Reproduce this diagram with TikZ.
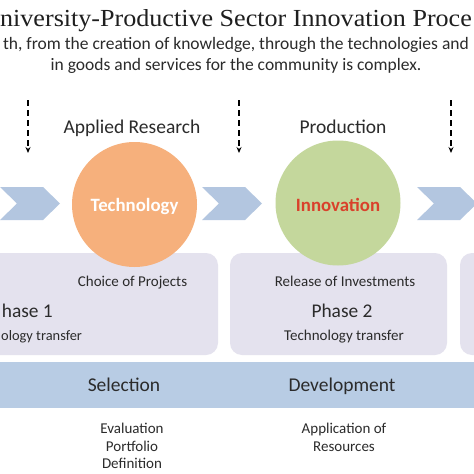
\documentclass[tikz,border=0pt]{standalone}
\usepackage{fontspec}
\setmainfont{Carlito}
\newfontfamily\titlefont{Liberation Serif}
\usetikzlibrary{arrows.meta}
\definecolor{chev}{HTML}{B3C6E0}
\definecolor{panelc}{HTML}{E4E2EE}
\definecolor{bandc}{HTML}{B8CCE4}
\definecolor{orangec}{HTML}{F6B07C}
\definecolor{greenc}{HTML}{C4D79C}
\definecolor{innov}{HTML}{D9412B}
\definecolor{txt}{HTML}{2B2B2B}
\tikzset{
  chevshape/.style={fill=chev},
  panelbox/.style={fill=panelc, rounded corners=12pt},
  bigcirc/.style={circle, minimum size=125pt, inner sep=0pt},
  dasharrow/.style={draw=black, dashed, dash pattern=on 6pt off 4pt, line width=1.4pt, -{Stealth[length=6pt,width=5pt]}},
  lbl/.style={text=txt, inner sep=0pt, anchor=base},
  head/.style={lbl, font=\fontsize{19.5}{22}\selectfont},
  small/.style={lbl, font=\fontsize{15}{18}\selectfont},
  phase/.style={lbl, font=\fontsize{19.4}{22}\selectfont},
  sub/.style={lbl, font=\fontsize{17.5}{20}\selectfont},
  circtxt/.style={font=\bfseries\fontsize{18.8}{22}\selectfont},
}
\begin{document}
\begin{tikzpicture}[x=1pt,y=-1pt]
\useasboundingbox (0,0) rectangle (474,474);
\clip (0,0) rectangle (474,474);
\fill[white] (0,0) rectangle (474,474);

% title and subtitle
\node[lbl, text=black!88, font=\titlefont\fontsize{24.5}{28}\selectfont] (title) at (236,26) {\scalebox{1.065}[1]{niversity-Productive Sector Innovation Proce}};
\node[sub, anchor=base east] (sub1) at (469,49) {th, from the creation of knowledge, through the technologies and};
\node[sub] (sub2) at (236,70) {in goods and services for the community is complex.};

% dashed arrows
\coordinate (d1s) at (28,100); \coordinate (d1e) at (28,153);
\coordinate (d2s) at (239,100); \coordinate (d2e) at (239,153);
\coordinate (d3s) at (451,100); \coordinate (d3e) at (451,153);
\draw[dasharrow] (d1s) -- (d1e);
\draw[dasharrow] (d2s) -- (d2e);
\draw[dasharrow] (d3s) -- (d3e);

% headings
\node[head] (applied) at (132,133.3) {Applied Research};
\node[head] (production) at (343,133.3) {Production};

% chevrons
\fill[chevshape] (0,187) -- (43,187) -- (60,203.5) -- (43,220) -- (0,220) -- (17,203.5) -- cycle;
\fill[chevshape] (202,187) -- (245,187) -- (262,203.5) -- (245,220) -- (202,220) -- (219,203.5) -- cycle;
\fill[chevshape] (417,187) -- (460,187) -- (477,203.5) -- (460,220) -- (417,220) -- (434,203.5) -- cycle;

% panels
\fill[panelbox] (-30,253) rectangle (218,355);
\fill[panelbox] (230,253) rectangle (447,355);
\fill[panelbox] (460,253) rectangle (520,355);

% circles
\node[bigcirc, fill=orangec] (tech) at (134.5,204.5) {};
\node[bigcirc, fill=greenc] (innovation) at (338,203) {};
\node[lbl, text=white, circtxt] (techtxt) at (134.5,211) {Technology};
\node[lbl, text=innov, circtxt] (innovtxt) at (338,211.5) {Innovation};

% panel texts
\node[small] (choice) at (132.5,286.7) {Choice of Projects};
\node[phase, anchor=base east] (phase1) at (53,317) {hase 1};
\node[small, anchor=base west, font=\fontsize{14.4}{17}\selectfont] (tt1) at (1,340) {ology transfer};
\node[small] (release) at (345,286.7) {Release of Investments};
\node[phase] (phase2) at (342,317) {Phase 2};
\node[small] (tt2) at (344,340) {Technology transfer};

% band
\fill[bandc] (0,362) rectangle (474,408);
\node[head] (selection) at (124,391.7) {Selection};
\node[head] (development) at (342,391.7) {Development};

% bottom texts
\node[small] (eval1) at (132,433.3) {Evaluation};
\node[small] (eval2) at (132,451) {Portfolio};
\node[small] (eval3) at (132,468.5) {Definition};
\node[small] (appl1) at (344,433.3) {Application of};
\node[small] (appl2) at (344,451) {Resources};
\end{tikzpicture}
\end{document}
